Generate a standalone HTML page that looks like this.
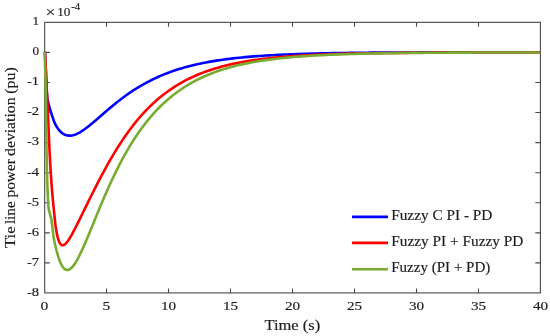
<!DOCTYPE html>
<html><head><meta charset="utf-8"><title>Tie line power deviation</title>
<style>html,body{margin:0;padding:0;background:#fff;}svg{display:block;}text{font-family:"Liberation Serif", "DejaVu Serif", serif;fill:#1c1c1c;stroke:#1c1c1c;stroke-width:0.16px;}</style>
</head><body>
<svg width="550" height="336" viewBox="0 0 550 336">
<rect width="550" height="336" fill="#fff"/>
<g stroke="#484848" stroke-width="1.1" fill="none">
<rect x="44.7" y="22.35" width="495.70" height="270.55"/>
<path d="M106.50,292.9 v-4.50 M106.50,22.35 v4.50"/>
<path d="M168.50,292.9 v-4.50 M168.50,22.35 v4.50"/>
<path d="M230.50,292.9 v-4.50 M230.50,22.35 v4.50"/>
<path d="M292.50,292.9 v-4.50 M292.50,22.35 v4.50"/>
<path d="M354.50,292.9 v-4.50 M354.50,22.35 v4.50"/>
<path d="M416.50,292.9 v-4.50 M416.50,22.35 v4.50"/>
<path d="M478.50,292.9 v-4.50 M478.50,22.35 v4.50"/>
<path d="M44.7,52.42 h5.10 M540.4,52.42 h-5.10"/>
<path d="M44.7,82.49 h5.10 M540.4,82.49 h-5.10"/>
<path d="M44.7,112.56 h5.10 M540.4,112.56 h-5.10"/>
<path d="M44.7,142.63 h5.10 M540.4,142.63 h-5.10"/>
<path d="M44.7,172.70 h5.10 M540.4,172.70 h-5.10"/>
<path d="M44.7,202.77 h5.10 M540.4,202.77 h-5.10"/>
<path d="M44.7,232.84 h5.10 M540.4,232.84 h-5.10"/>
<path d="M44.7,262.91 h5.10 M540.4,262.91 h-5.10"/>
</g>
<g fill="none" stroke-width="2.6" stroke-linejoin="round" stroke-linecap="butt">
<path d="M44.95,51.90 L45.06,53.90 L45.16,55.90 L45.26,57.90 L45.36,59.90 L45.46,61.90 L45.55,63.90 L45.65,65.90 L45.73,67.90 L45.81,69.90 L45.88,71.90 L45.94,73.90 L46.01,75.90 L46.07,77.90 L46.14,79.90 L46.21,81.90 L46.29,83.90 L46.38,85.90 L46.48,87.90 L46.59,89.90 L46.73,91.90 L46.90,93.90 L47.11,95.90 L47.35,97.90 L47.64,99.90 L48.05,101.90 L48.55,103.90 L49.11,105.90 L49.69,107.90 L50.26,109.90 L50.86,111.90 L51.49,113.90 L52.16,115.90 L52.86,117.90 L52.90,118.01 L53.90,121.02 L54.90,123.37 L55.90,125.34 L56.90,127.06 L57.90,128.56 L58.90,129.88 L59.90,131.03 L60.90,132.03 L61.90,132.90 L62.90,133.62 L63.90,134.23 L64.90,134.72 L65.90,135.10 L66.90,135.38 L67.90,135.56 L68.90,135.65 L69.90,135.66 L70.90,135.60 L71.90,135.46 L72.90,135.25 L73.90,134.98 L74.90,134.66 L75.90,134.28 L76.90,133.85 L77.90,133.37 L78.90,132.85 L79.90,132.30 L80.90,131.70 L81.90,131.08 L82.90,130.42 L83.90,129.74 L84.90,129.03 L85.90,128.29 L86.90,127.54 L87.90,126.77 L88.90,125.98 L89.90,125.18 L90.90,124.36 L91.90,123.53 L92.90,122.70 L93.90,121.85 L94.90,121.00 L95.90,120.14 L96.90,119.28 L97.90,118.41 L98.90,117.54 L99.90,116.67 L100.90,115.80 L101.90,114.93 L102.90,114.06 L103.90,113.19 L104.90,112.33 L105.90,111.47 L106.90,110.61 L107.90,109.75 L108.90,108.90 L109.90,108.06 L110.90,107.22 L111.90,106.38 L112.90,105.56 L113.90,104.74 L114.90,103.92 L115.90,103.12 L116.90,102.32 L117.90,101.53 L118.90,100.74 L119.90,99.97 L120.90,99.20 L121.90,98.44 L122.90,97.69 L123.90,96.95 L124.90,96.22 L125.90,95.50 L126.90,94.78 L127.90,94.08 L128.90,93.38 L129.90,92.69 L130.90,92.01 L131.90,91.34 L132.90,90.68 L133.90,90.03 L134.90,89.39 L135.90,88.76 L136.90,88.13 L137.90,87.52 L138.90,86.91 L139.90,86.31 L140.00,86.25 L143.00,84.52 L146.00,82.86 L149.00,81.28 L152.00,79.77 L155.00,78.33 L158.00,76.96 L161.00,75.66 L164.00,74.42 L167.00,73.24 L170.00,72.13 L173.00,71.06 L176.00,70.06 L179.00,69.10 L182.00,68.20 L185.00,67.34 L188.00,66.52 L191.00,65.75 L194.00,65.02 L197.00,64.33 L200.00,63.67 L203.00,63.05 L206.00,62.46 L209.00,61.90 L212.00,61.38 L215.00,60.88 L218.00,60.40 L221.00,59.96 L224.00,59.53 L227.00,59.13 L230.00,58.75 L233.00,58.40 L236.00,58.06 L239.00,57.74 L242.00,57.43 L245.00,57.15 L248.00,56.88 L251.00,56.62 L254.00,56.38 L257.00,56.15 L260.00,55.93 L263.00,55.73 L266.00,55.53 L269.00,55.35 L272.00,55.18 L275.00,55.01 L278.00,54.86 L281.00,54.71 L284.00,54.57 L287.00,54.44 L290.00,54.32 L293.00,54.20 L296.00,54.09 L299.00,53.99 L302.00,53.89 L305.00,53.80 L308.00,53.71 L311.00,53.63 L314.00,53.55 L317.00,53.47 L320.00,53.40 L323.00,53.34 L326.00,53.28 L329.00,53.22 L332.00,53.16 L335.00,53.11 L338.00,53.06 L341.00,53.01 L344.00,52.97 L347.00,52.93 L350.00,52.89 L353.00,52.85 L356.00,52.82 L359.00,52.79 L362.00,52.76 L365.00,52.73 L368.00,52.70 L371.00,52.67 L374.00,52.65 L377.00,52.63 L380.00,52.61 L383.00,52.59 L386.00,52.57 L389.00,52.55 L392.00,52.53 L395.00,52.52 L398.00,52.50 L401.00,52.49 L404.00,52.47 L407.00,52.46 L410.00,52.45 L413.00,52.44 L416.00,52.43 L419.00,52.42 L422.00,52.41 L425.00,52.40 L428.00,52.39 L431.00,52.39 L434.00,52.38 L437.00,52.37 L440.00,52.37 L443.00,52.36 L446.00,52.36 L449.00,52.35 L452.00,52.35 L455.00,52.34 L458.00,52.34 L461.00,52.34 L464.00,52.33 L467.00,52.33 L470.00,52.33 L473.00,52.33 L476.00,52.32 L479.00,52.32 L482.00,52.32 L485.00,52.32 L488.00,52.32 L491.00,52.32 L494.00,52.31 L497.00,52.31 L500.00,52.31 L503.00,52.31 L506.00,52.31 L509.00,52.31 L512.00,52.31 L515.00,52.31 L518.00,52.31 L521.00,52.31 L524.00,52.31 L527.00,52.31 L530.00,52.31 L533.00,52.31 L536.00,52.31 L539.00,52.31 L540.40,52.31" stroke="#0000ff"/>
<path d="M44.95,51.90 L45.06,53.90 L45.17,55.90 L45.28,57.90 L45.38,59.90 L45.49,61.90 L45.59,63.90 L45.69,65.90 L45.80,67.90 L45.89,69.90 L45.99,71.90 L46.09,73.90 L46.18,75.90 L46.28,77.90 L46.37,79.90 L46.47,81.90 L46.56,83.90 L46.65,85.90 L46.75,87.90 L46.84,89.90 L46.93,91.90 L47.02,93.90 L47.11,95.90 L47.20,97.90 L47.29,99.90 L47.38,101.90 L47.47,103.90 L47.56,105.90 L47.65,107.90 L47.74,109.90 L47.83,111.90 L47.92,113.90 L48.01,115.90 L48.10,117.90 L48.18,119.90 L48.27,121.90 L48.36,123.90 L48.44,125.90 L48.52,127.90 L48.61,129.90 L48.69,131.90 L48.77,133.90 L48.86,135.90 L48.94,137.90 L49.03,139.90 L49.12,141.90 L49.21,143.90 L49.30,145.90 L49.40,147.90 L49.49,149.90 L49.59,151.90 L49.70,153.90 L49.80,155.90 L49.91,157.90 L50.02,159.90 L50.13,161.90 L50.25,163.90 L50.37,165.90 L50.48,167.90 L50.61,169.90 L50.73,171.90 L50.86,173.90 L50.99,175.90 L51.12,177.90 L51.26,179.90 L51.40,181.90 L51.55,183.90 L51.69,185.90 L51.84,187.90 L52.00,189.90 L52.17,191.90 L52.34,193.90 L52.52,195.90 L52.70,197.90 L52.88,199.90 L53.07,201.90 L53.27,203.90 L53.46,205.90 L53.66,207.90 L53.86,209.90 L54.07,211.90 L54.27,213.90 L54.48,215.90 L54.68,217.90 L54.89,219.90 L55.10,221.90 L55.32,223.90 L55.50,225.49 L56.50,231.85 L57.50,236.63 L58.50,240.11 L59.50,242.55 L60.50,244.12 L61.50,245.00 L62.50,245.31 L63.50,245.16 L64.50,244.63 L65.50,243.80 L66.50,242.73 L67.50,241.46 L68.50,240.04 L69.50,238.48 L70.50,236.82 L71.50,235.08 L72.50,233.27 L73.50,231.41 L74.50,229.51 L75.50,227.57 L76.50,225.60 L77.50,223.62 L78.50,221.61 L79.50,219.60 L80.50,217.57 L81.50,215.54 L82.50,213.51 L83.50,211.47 L84.50,209.43 L85.50,207.39 L86.50,205.36 L87.50,203.32 L88.50,201.29 L89.50,199.27 L90.50,197.26 L91.50,195.25 L92.50,193.25 L93.50,191.26 L94.50,189.27 L95.50,187.30 L96.50,185.35 L97.50,183.40 L98.50,181.46 L99.50,179.54 L100.50,177.64 L101.50,175.75 L102.50,173.87 L103.50,172.01 L104.50,170.17 L105.50,168.34 L106.50,166.53 L107.50,164.73 L108.50,162.96 L109.50,161.20 L110.50,159.46 L111.50,157.74 L112.50,156.04 L113.50,154.36 L114.50,152.70 L115.50,151.05 L116.50,149.43 L117.50,147.83 L118.50,146.24 L119.50,144.68 L120.50,143.14 L121.50,141.61 L122.50,140.11 L123.50,138.63 L124.50,137.17 L125.50,135.72 L126.50,134.30 L127.50,132.90 L128.50,131.52 L129.50,130.15 L130.50,128.81 L131.50,127.49 L132.50,126.18 L133.50,124.90 L134.50,123.64 L135.50,122.39 L136.50,121.16 L137.50,119.96 L138.50,118.77 L139.50,117.60 L140.00,117.02 L143.00,113.65 L146.00,110.43 L149.00,107.37 L152.00,104.46 L155.00,101.69 L158.00,99.07 L161.00,96.57 L164.00,94.20 L167.00,91.95 L170.00,89.82 L173.00,87.80 L176.00,85.88 L179.00,84.06 L182.00,82.34 L185.00,80.71 L188.00,79.17 L191.00,77.71 L194.00,76.33 L197.00,75.02 L200.00,73.78 L203.00,72.61 L206.00,71.50 L209.00,70.46 L212.00,69.47 L215.00,68.53 L218.00,67.64 L221.00,66.80 L224.00,66.01 L227.00,65.26 L230.00,64.56 L233.00,63.89 L236.00,63.25 L239.00,62.66 L242.00,62.09 L245.00,61.56 L248.00,61.05 L251.00,60.57 L254.00,60.12 L257.00,59.70 L260.00,59.29 L263.00,58.91 L266.00,58.55 L269.00,58.22 L272.00,57.89 L275.00,57.59 L278.00,57.30 L281.00,57.03 L284.00,56.78 L287.00,56.54 L290.00,56.31 L293.00,56.09 L296.00,55.89 L299.00,55.70 L302.00,55.51 L305.00,55.34 L308.00,55.18 L311.00,55.03 L314.00,54.88 L317.00,54.74 L320.00,54.61 L323.00,54.49 L326.00,54.38 L329.00,54.27 L332.00,54.16 L335.00,54.07 L338.00,53.97 L341.00,53.89 L344.00,53.80 L347.00,53.73 L350.00,53.65 L353.00,53.58 L356.00,53.52 L359.00,53.46 L362.00,53.40 L365.00,53.34 L368.00,53.29 L371.00,53.24 L374.00,53.20 L377.00,53.15 L380.00,53.11 L383.00,53.07 L386.00,53.03 L389.00,53.00 L392.00,52.97 L395.00,52.93 L398.00,52.91 L401.00,52.88 L404.00,52.85 L407.00,52.83 L410.00,52.80 L413.00,52.78 L416.00,52.76 L419.00,52.74 L422.00,52.72 L425.00,52.70 L428.00,52.69 L431.00,52.67 L434.00,52.66 L437.00,52.64 L440.00,52.63 L443.00,52.62 L446.00,52.60 L449.00,52.59 L452.00,52.58 L455.00,52.57 L458.00,52.56 L461.00,52.55 L464.00,52.54 L467.00,52.54 L470.00,52.53 L473.00,52.52 L476.00,52.52 L479.00,52.51 L482.00,52.50 L485.00,52.50 L488.00,52.49 L491.00,52.49 L494.00,52.48 L497.00,52.48 L500.00,52.47 L503.00,52.47 L506.00,52.47 L509.00,52.46 L512.00,52.46 L515.00,52.46 L518.00,52.45 L521.00,52.45 L524.00,52.45 L527.00,52.44 L530.00,52.44 L533.00,52.44 L536.00,52.44 L539.00,52.43 L540.40,52.43" stroke="#ff0000"/>
<path d="M44.60,51.80 L44.68,53.80 L44.75,55.80 L44.83,57.80 L44.90,59.80 L44.97,61.80 L45.04,63.80 L45.11,65.80 L45.17,67.80 L45.24,69.80 L45.30,71.80 L45.35,73.80 L45.41,75.80 L45.46,77.80 L45.51,79.80 L45.55,81.80 L45.60,83.80 L45.64,85.80 L45.67,87.80 L45.71,89.80 L45.74,91.80 L45.77,93.80 L45.80,95.80 L45.83,97.80 L45.86,99.80 L45.88,101.80 L45.91,103.80 L45.94,105.80 L45.96,107.80 L45.99,109.80 L46.01,111.80 L46.04,113.80 L46.07,115.80 L46.10,117.80 L46.13,119.80 L46.15,121.80 L46.18,123.80 L46.21,125.80 L46.24,127.80 L46.26,129.80 L46.29,131.80 L46.32,133.80 L46.35,135.80 L46.37,137.80 L46.40,139.80 L46.43,141.80 L46.46,143.80 L46.49,145.80 L46.53,147.80 L46.56,149.80 L46.60,151.80 L46.63,153.80 L46.67,155.80 L46.71,157.80 L46.75,159.80 L46.79,161.80 L46.83,163.80 L46.87,165.80 L46.91,167.80 L46.96,169.80 L47.00,171.80 L47.05,173.80 L47.10,175.80 L47.16,177.80 L47.21,179.80 L47.27,181.80 L47.33,183.80 L47.39,185.80 L47.46,187.80 L47.54,189.80 L47.63,191.80 L47.72,193.80 L47.82,195.80 L47.93,197.80 L48.03,199.80 L48.14,201.80 L48.24,203.80 L48.33,205.80 L48.48,207.80 L48.88,209.80 L49.37,211.80 L49.90,213.80 L50.48,215.80 L51.03,217.80 L51.47,219.80 L51.77,221.80 L52.02,223.80 L52.24,225.80 L52.46,227.80 L52.70,229.80 L52.93,231.80 L53.17,233.80 L53.40,235.80 L53.60,237.53 L54.60,242.32 L55.60,246.76 L56.60,250.83 L57.60,254.49 L58.60,257.74 L59.60,260.58 L60.60,263.01 L61.60,265.05 L62.60,266.70 L63.60,267.99 L64.60,268.94 L65.60,269.57 L66.60,269.89 L67.60,269.93 L68.60,269.71 L69.60,269.25 L70.60,268.57 L71.60,267.69 L72.60,266.62 L73.60,265.38 L74.60,263.99 L75.60,262.46 L76.60,260.80 L77.60,259.03 L78.60,257.16 L79.60,255.19 L80.60,253.15 L81.60,251.04 L82.60,248.86 L83.60,246.63 L84.60,244.36 L85.60,242.04 L86.60,239.69 L87.60,237.31 L88.60,234.91 L89.60,232.49 L90.60,230.06 L91.60,227.62 L92.60,225.17 L93.60,222.72 L94.60,220.27 L95.60,217.82 L96.60,215.38 L97.60,212.95 L98.60,210.53 L99.60,208.12 L100.60,205.73 L101.60,203.35 L102.60,200.99 L103.60,198.65 L104.60,196.33 L105.60,194.03 L106.60,191.75 L107.60,189.50 L108.60,187.27 L109.60,185.06 L110.60,182.88 L111.60,180.72 L112.60,178.59 L113.60,176.48 L114.60,174.40 L115.60,172.35 L116.60,170.32 L117.60,168.33 L118.60,166.35 L119.60,164.41 L120.60,162.49 L121.60,160.60 L122.60,158.74 L123.60,156.90 L124.60,155.09 L125.60,153.31 L126.60,151.56 L127.60,149.83 L128.60,148.13 L129.60,146.45 L130.60,144.80 L131.60,143.18 L132.60,141.58 L133.60,140.01 L134.60,138.46 L135.60,136.94 L136.60,135.44 L137.60,133.97 L138.60,132.52 L139.60,131.09 L140.00,130.53 L143.00,126.42 L146.00,122.52 L149.00,118.81 L152.00,115.29 L155.00,111.95 L158.00,108.78 L161.00,105.77 L164.00,102.92 L167.00,100.22 L170.00,97.66 L173.00,95.24 L176.00,92.94 L179.00,90.77 L182.00,88.71 L185.00,86.76 L188.00,84.91 L191.00,83.16 L194.00,81.50 L197.00,79.94 L200.00,78.46 L203.00,77.05 L206.00,75.72 L209.00,74.47 L212.00,73.28 L215.00,72.15 L218.00,71.09 L221.00,70.08 L224.00,69.13 L227.00,68.22 L230.00,67.37 L233.00,66.56 L236.00,65.80 L239.00,65.08 L242.00,64.39 L245.00,63.75 L248.00,63.13 L251.00,62.55 L254.00,62.01 L257.00,61.49 L260.00,61.00 L263.00,60.53 L266.00,60.10 L269.00,59.68 L272.00,59.29 L275.00,58.92 L278.00,58.56 L281.00,58.23 L284.00,57.92 L287.00,57.62 L290.00,57.34 L293.00,57.07 L296.00,56.82 L299.00,56.58 L302.00,56.35 L305.00,56.14 L308.00,55.94 L311.00,55.75 L314.00,55.57 L317.00,55.40 L320.00,55.23 L323.00,55.08 L326.00,54.94 L329.00,54.80 L332.00,54.67 L335.00,54.55 L338.00,54.43 L341.00,54.32 L344.00,54.22 L347.00,54.12 L350.00,54.03 L353.00,53.94 L356.00,53.86 L359.00,53.78 L362.00,53.70 L365.00,53.63 L368.00,53.57 L371.00,53.50 L374.00,53.44 L377.00,53.39 L380.00,53.33 L383.00,53.28 L386.00,53.24 L389.00,53.19 L392.00,53.15 L395.00,53.11 L398.00,53.07 L401.00,53.03 L404.00,53.00 L407.00,52.97 L410.00,52.94 L413.00,52.91 L416.00,52.88 L419.00,52.85 L422.00,52.83 L425.00,52.81 L428.00,52.78 L431.00,52.76 L434.00,52.74 L437.00,52.73 L440.00,52.71 L443.00,52.69 L446.00,52.68 L449.00,52.66 L452.00,52.65 L455.00,52.63 L458.00,52.62 L461.00,52.61 L464.00,52.60 L467.00,52.59 L470.00,52.58 L473.00,52.57 L476.00,52.56 L479.00,52.55 L482.00,52.54 L485.00,52.53 L488.00,52.53 L491.00,52.52 L494.00,52.51 L497.00,52.51 L500.00,52.50 L503.00,52.50 L506.00,52.49 L509.00,52.49 L512.00,52.48 L515.00,52.48 L518.00,52.47 L521.00,52.47 L524.00,52.47 L527.00,52.46 L530.00,52.46 L533.00,52.46 L536.00,52.45 L539.00,52.45 L540.40,52.45" stroke="#77ac30"/>
</g>
<text x="40.6" y="309.7" font-size="12.9" text-anchor="start" textLength="7.8" lengthAdjust="spacingAndGlyphs">0</text>
<text x="102.6" y="309.7" font-size="12.9" text-anchor="start" textLength="7.8" lengthAdjust="spacingAndGlyphs">5</text>
<text x="160.9" y="309.7" font-size="12.9" text-anchor="start" textLength="15.2" lengthAdjust="spacingAndGlyphs">10</text>
<text x="222.9" y="309.7" font-size="12.9" text-anchor="start" textLength="15.2" lengthAdjust="spacingAndGlyphs">15</text>
<text x="284.9" y="309.7" font-size="12.9" text-anchor="start" textLength="15.2" lengthAdjust="spacingAndGlyphs">20</text>
<text x="346.9" y="309.7" font-size="12.9" text-anchor="start" textLength="15.2" lengthAdjust="spacingAndGlyphs">25</text>
<text x="408.9" y="309.7" font-size="12.9" text-anchor="start" textLength="15.2" lengthAdjust="spacingAndGlyphs">30</text>
<text x="470.9" y="309.7" font-size="12.9" text-anchor="start" textLength="15.2" lengthAdjust="spacingAndGlyphs">35</text>
<text x="532.9" y="309.7" font-size="12.9" text-anchor="start" textLength="15.2" lengthAdjust="spacingAndGlyphs">40</text>
<text x="32.5" y="25.15" font-size="12.9" text-anchor="start" textLength="6.6" lengthAdjust="spacingAndGlyphs">1</text>
<text x="32.5" y="55.22" font-size="12.9" text-anchor="start" textLength="6.6" lengthAdjust="spacingAndGlyphs">0</text>
<text x="26.9" y="85.29" font-size="12.9" text-anchor="start" textLength="12.2" lengthAdjust="spacingAndGlyphs">-1</text>
<text x="26.9" y="115.36" font-size="12.9" text-anchor="start" textLength="12.2" lengthAdjust="spacingAndGlyphs">-2</text>
<text x="26.9" y="145.43" font-size="12.9" text-anchor="start" textLength="12.2" lengthAdjust="spacingAndGlyphs">-3</text>
<text x="26.9" y="175.5" font-size="12.9" text-anchor="start" textLength="12.2" lengthAdjust="spacingAndGlyphs">-4</text>
<text x="26.9" y="205.57" font-size="12.9" text-anchor="start" textLength="12.2" lengthAdjust="spacingAndGlyphs">-5</text>
<text x="26.9" y="235.64" font-size="12.9" text-anchor="start" textLength="12.2" lengthAdjust="spacingAndGlyphs">-6</text>
<text x="26.9" y="265.71" font-size="12.9" text-anchor="start" textLength="12.2" lengthAdjust="spacingAndGlyphs">-7</text>
<text x="26.9" y="295.78" font-size="12.9" text-anchor="start" textLength="12.2" lengthAdjust="spacingAndGlyphs">-8</text>
<text x="45.4" y="17.1" font-size="14.5" text-anchor="start" textLength="10" lengthAdjust="spacingAndGlyphs">×</text>
<text x="57.2" y="16.2" font-size="12.9" text-anchor="start" textLength="13.2" lengthAdjust="spacingAndGlyphs">10</text>
<text x="71.2" y="9.8" font-size="9.5" text-anchor="start" textLength="9.0" lengthAdjust="spacingAndGlyphs">-4</text>
<text x="264.4" y="329.5" font-size="14" text-anchor="start" textLength="55.8" lengthAdjust="spacingAndGlyphs">Time (s)</text>
<g transform="translate(15.4,248) rotate(-90)">
<text y="0" font-size="15.6" xml:space="default"><tspan x="-0.10" textLength="21.70" lengthAdjust="spacingAndGlyphs">Tie</tspan> <tspan x="23.90" textLength="22.80" lengthAdjust="spacingAndGlyphs">line</tspan> <tspan x="50.50" textLength="38.40" lengthAdjust="spacingAndGlyphs">power</tspan> <tspan x="92.10" textLength="58.40" lengthAdjust="spacingAndGlyphs">deviation</tspan> <tspan x="154.30" textLength="26.40" lengthAdjust="spacingAndGlyphs">(pu)</tspan></text>
</g>
<g fill="none" stroke-width="2.6">
<path d="M352,216.9 H388" stroke="#0000ff"/>
<path d="M352,242.9 H388" stroke="#ff0000"/>
<path d="M352,269.3 H388" stroke="#77ac30"/>
</g>
<text x="391.2" y="219.8" font-size="13.8" text-anchor="start" textLength="101.2" lengthAdjust="spacingAndGlyphs">Fuzzy C PI - PD</text>
<text x="391.2" y="245.9" font-size="13.8" text-anchor="start" textLength="132.2" lengthAdjust="spacingAndGlyphs">Fuzzy PI + Fuzzy PD</text>
<text x="391.2" y="272.2" font-size="13.8" text-anchor="start" textLength="99.2" lengthAdjust="spacingAndGlyphs">Fuzzy (PI + PD)</text>
</svg></body></html>
